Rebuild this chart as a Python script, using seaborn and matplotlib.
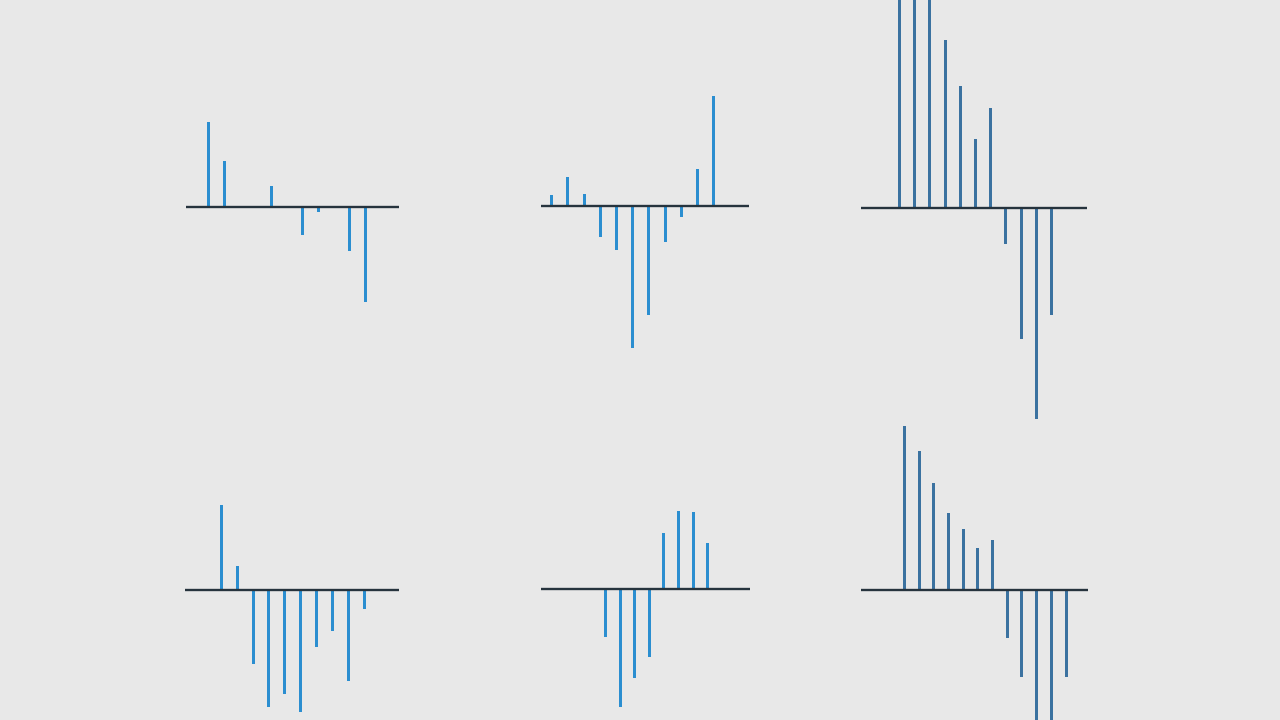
import numpy as np
import pandas as pd
import matplotlib
matplotlib.use("Agg")
import matplotlib.pyplot as plt
import seaborn as sns

# ---- data (arbitrary units) ----
p1_vals = [8.5, 4.6, 0, 0, 2.1, 0, -2.8, -0.5, 0, -4.4, -9.5]
p2_vals = [1.1, 2.9, 1.2, -3.1, -4.4, -14.2, -10.9, -3.6, -1.1, 3.7, 11.0]
p3_vals = [21.5, 21.2, 21.0, 16.8, 12.2, 6.9, 10.0, -3.6, -13.1, -21.1, -10.7]
p4_vals = [0, 8.5, 2.4, -7.4, -11.7, -10.4, -12.2, -5.7, -4.1, -9.1, -1.9]
p5_vals = [0, 0, 0, 0, -4.8, -11.8, -8.9, -6.8, 5.6, 7.8, 7.7, 4.6, 0, 0]
p6_vals = [16.4, 13.9, 10.7, 7.7, 6.1, 4.2, 5.0, -4.8, -8.7, -14.0, -13.5, -8.7]

BRIGHT = "#2b8ed0"
STEEL = "#3b72a0"
BASE = "#26333d"
BG = "#e8e8e8"

# layout per panel: (values, colour, first-stem px, stem spacing px,
#                    baseline left px, baseline right px, baseline y px, row)
panels = [
    (p1_vals, BRIGHT, 208.3, 15.7, 186, 399, 206.7, 0),
    (p2_vals, BRIGHT, 551.7, 16.2, 541, 749, 206.0, 0),
    (p3_vals, STEEL, 899.3, 15.24, 861, 1087, 207.7, 0),
    (p4_vals, BRIGHT, 205.5, 15.85, 185, 399, 590.0, 1),
    (p5_vals, BRIGHT, 547.3, 14.57, 541, 750, 589.3, 1),
    (p6_vals, STEEL, 904.3, 14.7, 861, 1088, 590.3, 1),
]

sns.set_theme(style="white")
W, H = 1280, 720
fig = plt.figure(figsize=(W / 100, H / 100), dpi=100, facecolor=BG)

row_span = {0: (0, 420), 1: (420, 720)}
UNIT = 10.0  # pixels per value unit

for vals, col, x0, sp, left, right, yb, row in panels:
    top_px, bot_px = row_span[row]
    ax = fig.add_axes([left / W, 1 - bot_px / H, (right - left) / W, (bot_px - top_px) / H])
    ax.set_facecolor("none")
    df = pd.DataFrame({"i": np.arange(len(vals)), "v": vals})
    sns.barplot(data=df, x="i", y="v", order=list(df["i"]), color=col,
                width=3.0 / sp, linewidth=0, errorbar=None, ax=ax,
                saturation=1, zorder=2)
    ax.axhline(0, color=BASE, lw=1.7, zorder=3)
    ax.set_xlim((left - x0) / sp, (right - x0) / sp)
    ax.set_ylim(-(bot_px - yb) / UNIT, (yb - top_px) / UNIT)
    ax.set_axis_off()

fig.savefig("out.png", dpi=100, facecolor=BG)
